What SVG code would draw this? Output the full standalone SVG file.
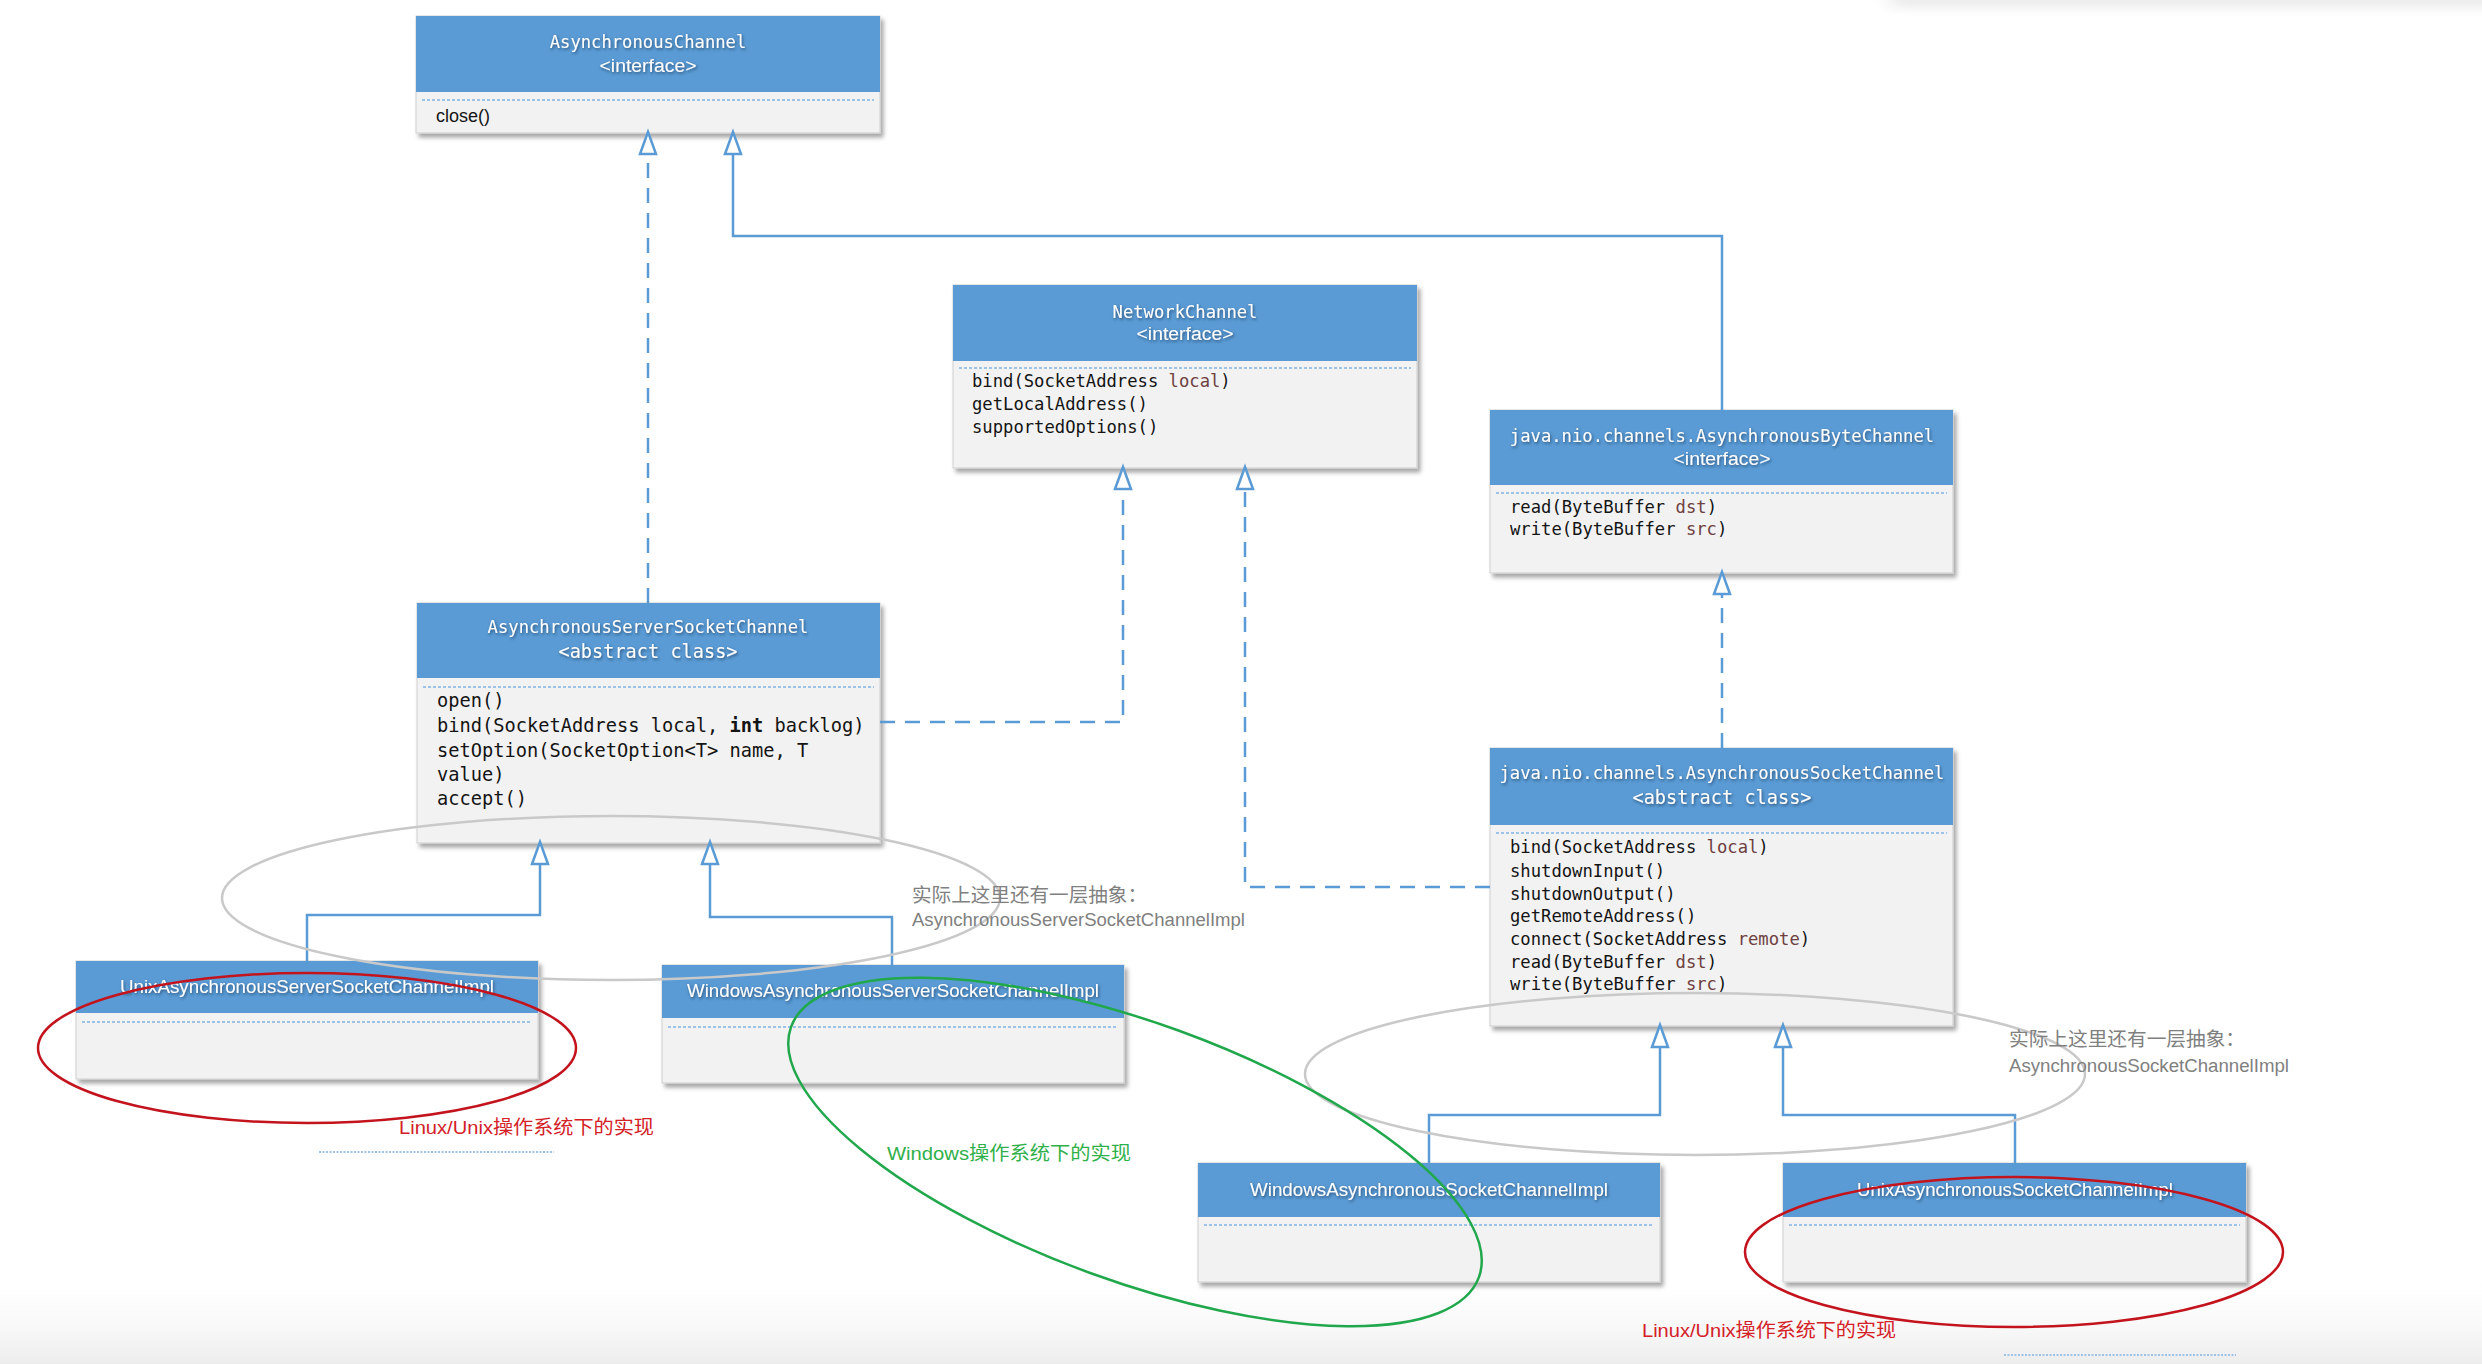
<svg xmlns="http://www.w3.org/2000/svg" width="2482" height="1364" viewBox="0 0 2482 1364">
<style>
.bg{fill:#ffffff}
.body{fill:#f2f2f2;stroke:#cfcfcf;stroke-width:1}
.hdr{fill:#5b9bd5}
.sep{stroke:#9dc3e6;stroke-width:2;stroke-dasharray:3 2;fill:none}
.tm{font-family:"DejaVu Sans Mono","Liberation Mono",monospace;font-size:17.2px;fill:#ffffff;text-anchor:middle}
.tma{font-family:"DejaVu Sans Mono","Liberation Mono",monospace;font-size:18.6px;fill:#ffffff;text-anchor:middle}
.tsn{font-family:"Liberation Sans",Arial,sans-serif;font-size:18px;fill:#ffffff;text-anchor:middle}
.tb{font-family:"Liberation Sans",Arial,sans-serif;font-size:19px;fill:#ffffff;text-anchor:middle}
.m{font-family:"DejaVu Sans Mono","Liberation Mono",monospace;font-size:17.2px;fill:#141414}
.m19{font-family:"DejaVu Sans Mono","Liberation Mono",monospace;font-size:18.7px;fill:#141414}
.ms{font-family:"Liberation Sans",Arial,sans-serif;font-size:18px;fill:#141414}
.p{fill:#6e4040}
.conn{fill:none;stroke:#5b9bd5;stroke-width:2.5}
.dash{stroke-dasharray:15 10}
.gray{font-family:"Liberation Sans","Noto Sans CJK SC",sans-serif;fill:#808080}
.note{font-family:"Liberation Sans","Noto Sans CJK SC",sans-serif;font-size:19px}
.ell{fill:none;stroke-width:2.5}
.dots{stroke:#9dc3e6;stroke-width:2;stroke-dasharray:2 1.5}
</style>
<defs>
<filter id="shadow" x="-5%" y="-5%" width="112%" height="118%">
<feDropShadow dx="3" dy="4" stdDeviation="2" flood-color="#000000" flood-opacity="0.35"/>
</filter>
<filter id="ts" x="-5%" y="-40%" width="110%" height="180%">
<feDropShadow dx="1" dy="1.5" stdDeviation="1.4" flood-color="#1b3a5c" flood-opacity="0.8"/>
</filter>
<filter id="soft" x="-10%" y="-100%" width="120%" height="300%">
<feGaussianBlur stdDeviation="10 5"/>
</filter>
<marker id="tri" markerUnits="userSpaceOnUse" viewBox="-2 -2 26 20" markerWidth="26" markerHeight="20" refX="21" refY="8" orient="auto" overflow="visible">
<path d="M0,0 L22,8 L0,16 Z" fill="#ffffff" stroke="#5b9bd5" stroke-width="2.5" stroke-dasharray="none" stroke-linejoin="miter"/>
</marker>
<linearGradient id="gb" x1="0" y1="0" x2="0" y2="1">
<stop offset="0" stop-color="#ffffff" stop-opacity="0"/>
<stop offset="1" stop-color="#ececec" stop-opacity="1"/>
</linearGradient>
</defs>
<rect class="bg" x="0" y="0" width="2482" height="1364"/>
<rect x="0" y="1270" width="2482" height="94" fill="url(#gb)"/>
<rect x="1890" y="-12" width="620" height="20" fill="#ececec" filter="url(#soft)"/>

<g id="asynchronousChannel">
<rect class="body" x="416" y="16" width="464" height="117" filter="url(#shadow)"/>
<rect class="hdr" x="416" y="16" width="464" height="76"/>
<line class="sep" x1="422" y1="100" x2="874" y2="100"/>
<text class="tm" x="648" y="48" filter="url(#ts)">AsynchronousChannel</text>
<text class="tsn" x="648" y="72" textLength="97" lengthAdjust="spacingAndGlyphs" filter="url(#ts)">&lt;interface&gt;</text>
<text class="ms" x="436" y="122">close()</text>
</g>

<g id="networkChannel">
<rect class="body" x="953" y="285" width="464" height="183" filter="url(#shadow)"/>
<rect class="hdr" x="953" y="285" width="464" height="76"/>
<line class="sep" x1="959" y1="368" x2="1411" y2="368"/>
<text class="tm" x="1185" y="318" filter="url(#ts)">NetworkChannel</text>
<text class="tsn" x="1185" y="340" textLength="97" lengthAdjust="spacingAndGlyphs" filter="url(#ts)">&lt;interface&gt;</text>
<text class="m" x="972" y="387">bind(SocketAddress <tspan class="p">local</tspan>)</text>
<text class="m" x="972" y="410">getLocalAddress()</text>
<text class="m" x="972" y="433">supportedOptions()</text>
</g>

<g id="asynchronousByteChannel">
<rect class="body" x="1490" y="410" width="463" height="163" filter="url(#shadow)"/>
<rect class="hdr" x="1490" y="410" width="463" height="75"/>
<line class="sep" x1="1496" y1="493" x2="1947" y2="493"/>
<text class="tm" x="1722" y="442" filter="url(#ts)">java.nio.channels.AsynchronousByteChannel</text>
<text class="tsn" x="1722" y="465" textLength="97" lengthAdjust="spacingAndGlyphs" filter="url(#ts)">&lt;interface&gt;</text>
<text class="m" x="1510" y="513">read(ByteBuffer <tspan class="p">dst</tspan>)</text>
<text class="m" x="1510" y="535">write(ByteBuffer <tspan class="p">src</tspan>)</text>
</g>

<g id="asynchronousServerSocketChannel">
<rect class="body" x="417" y="603" width="463" height="240" filter="url(#shadow)"/>
<rect class="hdr" x="417" y="603" width="463" height="75"/>
<line class="sep" x1="423" y1="687" x2="874" y2="687"/>
<text class="tm" x="648" y="633" filter="url(#ts)">AsynchronousServerSocketChannel</text>
<text class="tma" x="648" y="658" filter="url(#ts)">&lt;abstract class&gt;</text>
<text class="m19" x="437" y="707">open()</text>
<text class="m19" x="437" y="732">bind(SocketAddress local, <tspan font-weight="bold">int</tspan> backlog)</text>
<text class="m19" x="437" y="757">setOption(SocketOption&lt;T&gt; name, T</text>
<text class="m19" x="437" y="781">value)</text>
<text class="m19" x="437" y="805">accept()</text>
</g>

<g id="asynchronousSocketChannel">
<rect class="body" x="1490" y="748" width="463" height="278" filter="url(#shadow)"/>
<rect class="hdr" x="1490" y="748" width="463" height="77"/>
<line class="sep" x1="1496" y1="833" x2="1947" y2="833"/>
<text class="tm" x="1722" y="779" filter="url(#ts)">java.nio.channels.AsynchronousSocketChannel</text>
<text class="tma" x="1722" y="804" filter="url(#ts)">&lt;abstract class&gt;</text>
<text class="m" x="1510" y="853">bind(SocketAddress <tspan class="p">local</tspan>)</text>
<text class="m" x="1510" y="877">shutdownInput()</text>
<text class="m" x="1510" y="900">shutdownOutput()</text>
<text class="m" x="1510" y="922">getRemoteAddress()</text>
<text class="m" x="1510" y="945">connect(SocketAddress <tspan class="p">remote</tspan>)</text>
<text class="m" x="1510" y="968">read(ByteBuffer <tspan class="p">dst</tspan>)</text>
<text class="m" x="1510" y="990">write(ByteBuffer <tspan class="p">src</tspan>)</text>
</g>

<g id="unixAsynchronousServerSocketChannelImpl">
<rect class="body" x="76" y="961" width="462" height="118" filter="url(#shadow)"/>
<rect class="hdr" x="76" y="961" width="462" height="52"/>
<line class="sep" x1="82" y1="1022" x2="532" y2="1022"/>
<text class="tb" x="307" y="993" textLength="374" lengthAdjust="spacingAndGlyphs" filter="url(#ts)">UnixAsynchronousServerSocketChannelImpl</text>
</g>

<g id="windowsAsynchronousServerSocketChannelImpl">
<rect class="body" x="662" y="965" width="462" height="118" filter="url(#shadow)"/>
<rect class="hdr" x="662" y="965" width="462" height="53"/>
<line class="sep" x1="668" y1="1027" x2="1118" y2="1027"/>
<text class="tb" x="893" y="997" textLength="412" lengthAdjust="spacingAndGlyphs" filter="url(#ts)">WindowsAsynchronousServerSocketChannelImpl</text>
</g>

<g id="windowsAsynchronousSocketChannelImpl">
<rect class="body" x="1198" y="1163" width="462" height="119" filter="url(#shadow)"/>
<rect class="hdr" x="1198" y="1163" width="462" height="54"/>
<line class="sep" x1="1204" y1="1225" x2="1654" y2="1225"/>
<text class="tb" x="1429" y="1196" textLength="358" lengthAdjust="spacingAndGlyphs" filter="url(#ts)">WindowsAsynchronousSocketChannelImpl</text>
</g>

<g id="unixAsynchronousSocketChannelImpl">
<rect class="body" x="1783" y="1163" width="463" height="119" filter="url(#shadow)"/>
<rect class="hdr" x="1783" y="1163" width="463" height="54"/>
<line class="sep" x1="1789" y1="1225" x2="2240" y2="1225"/>
<text class="tb" x="2015" y="1196" textLength="316" lengthAdjust="spacingAndGlyphs" filter="url(#ts)">UnixAsynchronousSocketChannelImpl</text>
</g>

<g id="connectors">
<path class="conn" d="M1722,410 V236 H733 V133" marker-end="url(#tri)"/>
<path class="conn dash" d="M648,603 V133" marker-end="url(#tri)"/>
<path class="conn dash" d="M880,722 H1123 V468" marker-end="url(#tri)"/>
<path class="conn dash" d="M1490,887 H1245 V468" marker-end="url(#tri)"/>
<path class="conn dash" d="M1722,748 V573" marker-end="url(#tri)"/>
<path class="conn" d="M307,961 V915 H540 V843" marker-end="url(#tri)"/>
<path class="conn" d="M892,965 V917 H710 V843" marker-end="url(#tri)"/>
<path class="conn" d="M1429,1163 V1115 H1660 V1026" marker-end="url(#tri)"/>
<path class="conn" d="M2015,1163 V1115 H1783 V1026" marker-end="url(#tri)"/>
</g>

<g id="annotations">
<ellipse class="ell" cx="611" cy="898" rx="389" ry="82" stroke="#c9c9c9"/>
<ellipse class="ell" cx="1695" cy="1074" rx="390" ry="81" stroke="#c9c9c9"/>
<ellipse class="ell" cx="307" cy="1048" rx="269" ry="75" stroke="#c3141e"/>
<ellipse class="ell" cx="2014" cy="1252" rx="269" ry="75" stroke="#c3141e"/>
<ellipse class="ell" cx="1135" cy="1152" rx="366" ry="129" transform="rotate(20 1135 1152)" stroke="#21a84c"/>
<text class="gray" x="912" y="902" font-size="19.5" textLength="235" lengthAdjust="spacingAndGlyphs">实际上这里还有一层抽象：</text>
<text class="gray" x="912" y="926" font-size="18" textLength="333" lengthAdjust="spacingAndGlyphs">AsynchronousServerSocketChannelImpl</text>
<text class="gray" x="2009" y="1046" font-size="19.5" textLength="236" lengthAdjust="spacingAndGlyphs">实际上这里还有一层抽象：</text>
<text class="gray" x="2009" y="1072" font-size="18" textLength="280" lengthAdjust="spacingAndGlyphs">AsynchronousSocketChannelImpl</text>
<text class="note" x="399" y="1134" fill="#d42027" textLength="255" lengthAdjust="spacingAndGlyphs">Linux/Unix操作系统下的实现</text>
<text class="note" x="1642" y="1337" fill="#d42027" textLength="254" lengthAdjust="spacingAndGlyphs">Linux/Unix操作系统下的实现</text>
<text class="note" x="887" y="1160" fill="#2fb04a" textLength="244" lengthAdjust="spacingAndGlyphs">Windows操作系统下的实现</text>
<line class="dots" x1="319" y1="1152" x2="554" y2="1152"/>
<line class="dots" x1="2004" y1="1355" x2="2236" y2="1355"/>
</g>
</svg>
